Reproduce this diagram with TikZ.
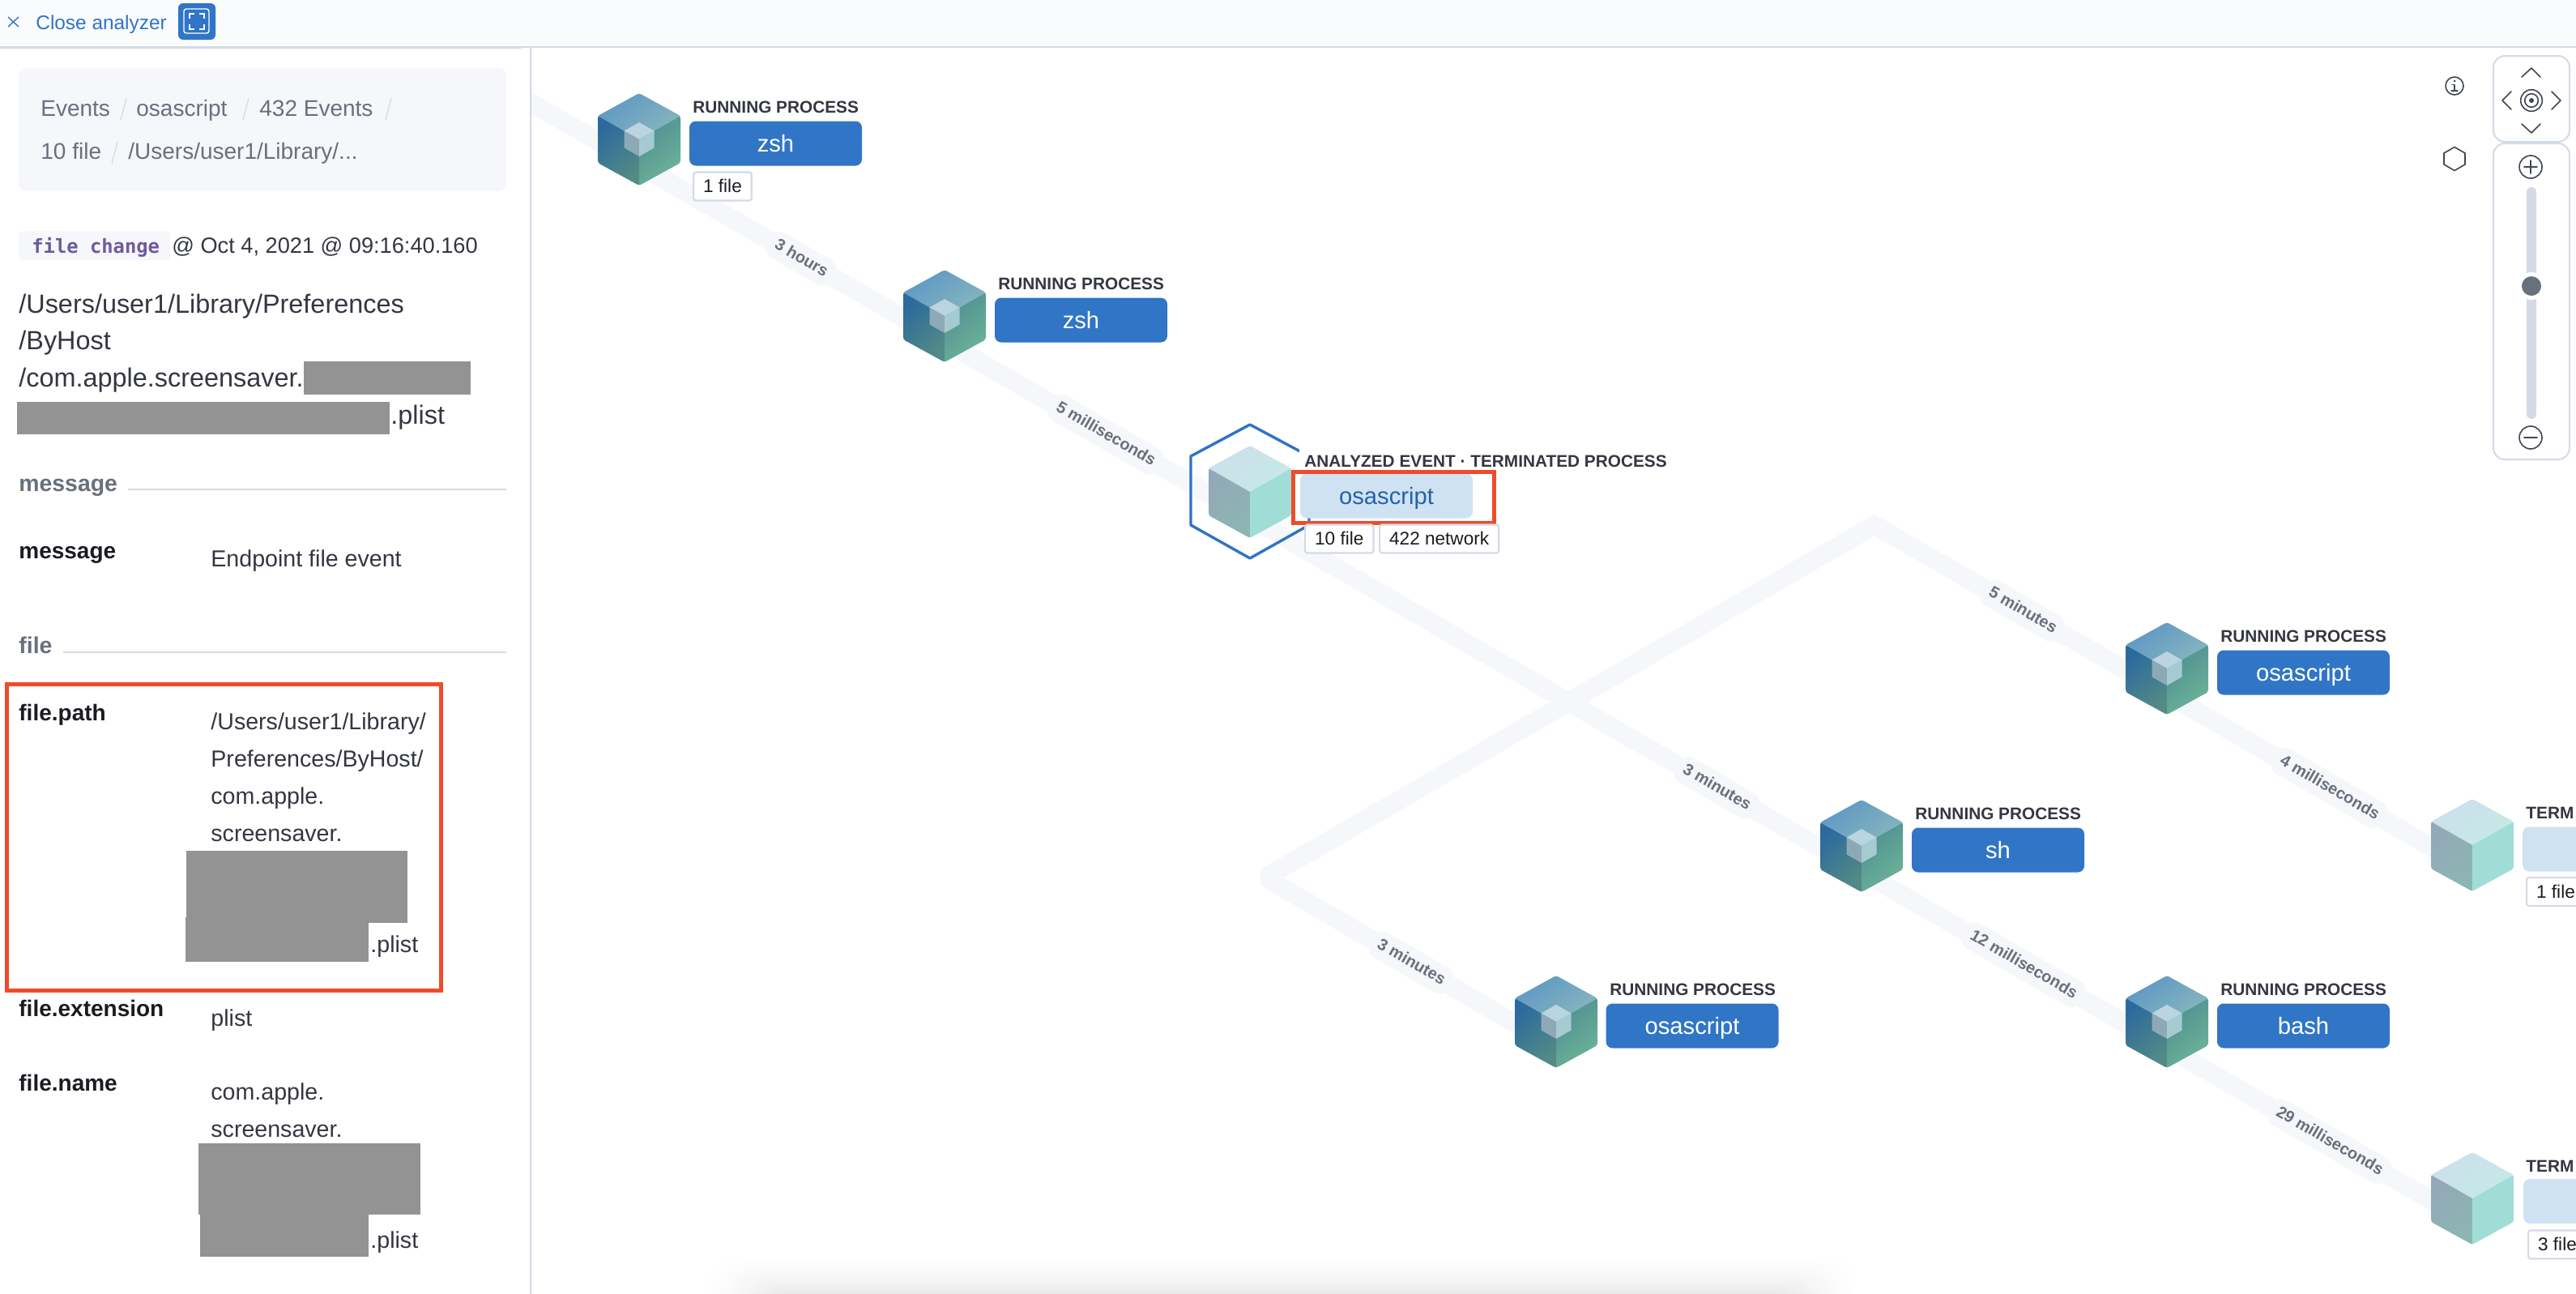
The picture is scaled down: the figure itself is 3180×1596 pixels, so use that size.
\documentclass[tikz,border=0pt]{standalone}
\usepackage{fontspec}
\setmainfont{Liberation Sans}
\newfontfamily\dejamono{DejaVu Sans Mono}
\usetikzlibrary{calc}
\definecolor{bluebtn}{HTML}{3075C6}
\definecolor{palebtn}{HTML}{CFE2F2}
\definecolor{paletxt}{HTML}{2562A8}
\definecolor{bandc}{HTML}{F5F7FA}
\definecolor{edgec}{HTML}{D3DAE6}
\definecolor{inkc}{HTML}{343741}
\definecolor{subc}{HTML}{69707D}
\definecolor{boldc}{HTML}{1A1C21}
\definecolor{redc}{HTML}{EF4B2B}
\definecolor{maskc}{HTML}{939393}
\definecolor{barc}{HTML}{FAFBFD}
\definecolor{iconc}{HTML}{404652}
\definecolor{purplec}{HTML}{6F5A9C}
\definecolor{hexc}{HTML}{2F74C4}
\definecolor{rtopa}{HTML}{5E97C4}
\definecolor{rtopb}{HTML}{88B7BD}
\definecolor{rlefta}{HTML}{2B6A9E}
\definecolor{rleftb}{HTML}{548A85}
\definecolor{rrighta}{HTML}{4F8F93}
\definecolor{rrightb}{HTML}{6DB497}
\definecolor{itop}{HTML}{BAD5E0}
\definecolor{ileft}{HTML}{8EA9B6}
\definecolor{iright}{HTML}{A6CAD2}
\definecolor{ttopa}{HTML}{CCDFEC}
\definecolor{ttopb}{HTML}{C6EAE6}
\definecolor{tlefta}{HTML}{93A8B8}
\definecolor{tleftb}{HTML}{8BB6B2}
\definecolor{tright}{HTML}{A1DDD7}
\tikzset{
  x=0.5pt,y=-0.5pt,
  band/.style={line width=11.5pt,color=bandc},
  pill/.style={fill=bandc,rounded corners=4.5pt,rotate=-30,inner xsep=3.5pt,inner ysep=0pt,minimum height=17.5pt,text height=7.3pt,text depth=2pt,text=subc,font=\fontsize{10}{12}\selectfont\bfseries},
  kind/.style={anchor=base west,inner sep=0pt,text=inkc,font=\fontsize{10.4}{12}\selectfont\bfseries},
  btn/.style={minimum width=106.5pt,minimum height=27.5pt,inner sep=0pt,rounded corners=4pt,fill=bluebtn,text=white,text height=12pt,text depth=2pt,font=\fontsize{14.6}{16}\selectfont},
  palebutton/.style={btn,fill=palebtn,text=paletxt},
  badge/.style={anchor=west,draw=edgec,line width=1.1pt,fill=white,rounded corners=1.5pt,inner xsep=6pt,inner ysep=0pt,minimum height=17.5pt,text=boldc,text height=8.2pt,text depth=0.3pt,font=\fontsize{11.3}{13}\selectfont},
  txt/.style={anchor=base west,inner sep=0pt},
  crumb/.style={txt,text=subc,font=\fontsize{14}{16}\selectfont},
  ptitle/.style={txt,text=inkc,font=\fontsize{16.2}{18}\selectfont},
  head/.style={txt,text=subc,font=\fontsize{14.2}{16}\selectfont\bfseries},
  fname/.style={txt,text=boldc,font=\fontsize{14}{16}\selectfont\bfseries},
  fval/.style={txt,text=inkc,font=\fontsize{14.3}{16}\selectfont},
  icon/.style={draw=iconc,line width=0.8pt,line cap=round,line join=round},
  ctlbox/.style={draw=edgec,line width=1pt,fill=white,rounded corners=7pt},
  sep/.style={draw=edgec,line width=0.6pt},
  mask/.style={fill=maskc},
  redbox/.style={draw=redc,line width=2.5pt},
  runcube/.pic={
    \begin{scope}
      \clip[rounded corners=1.5pt] (0,-57)--(51,-29)--(51,29)--(0,57)--(-51,29)--(-51,-29)--cycle;
      \shade[left color=rtopa,right color=rtopb,shading angle=35] (0,-57)--(51,-29)--(0,0)--(-51,-29)--cycle;
      \shade[left color=rlefta,right color=rleftb,shading angle=40] (-51,-29)--(0,0)--(0,57)--(-51,29)--cycle;
      \shade[left color=rrighta,right color=rrightb,shading angle=40] (51,-29)--(0,0)--(0,57)--(51,29)--cycle;
    \end{scope}
    \fill[fill=itop] (0,-21)--(18.5,-10.5)--(0,0)--(-18.5,-10.5)--cycle;
    \fill[fill=ileft] (-18.5,-10.5)--(0,0)--(0,21)--(-18.5,10.5)--cycle;
    \fill[fill=iright] (18.5,-10.5)--(0,0)--(0,21)--(18.5,10.5)--cycle;
  },
  termcube/.pic={
    \begin{scope}
      \clip[rounded corners=1.5pt] (0,-57)--(51,-29)--(51,29)--(0,57)--(-51,29)--(-51,-29)--cycle;
      \shade[left color=ttopa,right color=ttopb,shading angle=35] (0,-57)--(51,-29)--(0,0)--(-51,-29)--cycle;
      \shade[left color=tlefta,right color=tleftb,shading angle=40] (-51,-29)--(0,0)--(0,57)--(-51,29)--cycle;
      \fill[fill=tright] (51,-29)--(0,0)--(0,57)--(51,29)--cycle;
    \end{scope}
  }
}
\begin{document}
\begin{tikzpicture}
\useasboundingbox (0,0) rectangle (3180,1596);
\clip (0,0) rectangle (3180,1596);
\fill[white] (0,0) rectangle (3180,1596);
% bottom shadow
\foreach \i in {0,...,22}{
  \pgfmathsetmacro{\shadeamt}{8.5*((\i+1)/23)^2}
  \fill[black!\shadeamt!white,rounded corners=18pt] ({865+3.4*\i},{1543+2.4*\i}) rectangle ({2300-3.4*\i},1680);
}
% graph anchors
\coordinate (up) at (500,37);
\coordinate (c1) at (805,213);
\coordinate (c2) at (1182,431);
\coordinate (c3) at (1559,648);
\coordinate (sh) at (2314,1085);
\coordinate (top) at (2314,648);
\coordinate (low) at (1562,1083);
\coordinate (osaR) at (2691,866);
\coordinate (trm1) at (3068,1084);
\coordinate (osaL) at (1937,1302);
\coordinate (bash) at (2691,1302);
\coordinate (trm2) at (3068,1520);
% connectors
\draw[band] (up) -- (c1);
\draw[band] (c1) -- node[pill,pos=.488] (e1) {3 hours} (c2);
\draw[band] (c2) -- node[pill,pos=.485] (e2) {5 milliseconds} (c3);
\draw[band] (c3) -- node[pill,pos=.742] (e3) {3 minutes} (sh);
\draw[band,line join=bevel] (top) -- (low) -- node[pill,pos=.48] (e5) {3 minutes} (osaL);
\draw[band,line join=miter] (low) -- (top) -- node[pill,pos=.485] (e4) {5 minutes} (osaR);
\draw[band] (osaR) -- node[pill,pos=.49] (e6) {4 milliseconds} (trm1);
\draw[band] (sh) -- node[pill,pos=.488] (e7) {12 milliseconds} (bash);
\draw[band] (bash) -- node[pill,pos=.49] (e8) {29 milliseconds} (trm2);
% process cubes and labels
\pic (cA) at (789,172) {runcube};
\node[kind] (kA) at (855,139) {RUNNING PROCESS};
\node[btn] (bA) at (957.5,177) {zsh};
\node[badge] (fA) at (855,230) {1 file};
\pic (cB) at (1166,390) {runcube};
\node[kind] (kB) at (1232,357) {RUNNING PROCESS};
\node[btn] (bB) at (1334.5,395) {zsh};
% analyzed event
\draw[draw=hexc,line width=1.7pt,line join=round] (1543,524)--(1616,563)--(1616,648)--(1543,689)--(1470,648)--(1470,563)--cycle;
\pic (cC) at (1543,607) {termcube};
\fill[white] (1604,552) rectangle (2080,581);
\node[kind] (kC) at (1610,576) {ANALYZED EVENT · TERMINATED PROCESS};
\node[palebutton] (bC) at (1711.5,612) {osascript};
\draw[redbox] (1596,582.5) rectangle (1844,645);
\node[badge] (fC) at (1610,665) {10 file};
\node[badge] (nC) at (1702,665) {422 network};
% right-hand processes
\pic (cD) at (2675,825) {runcube};
\node[kind] (kD) at (2741,792) {RUNNING PROCESS};
\node[btn] (bD) at (2843.5,830) {osascript};
\pic (cE) at (2298,1044) {runcube};
\node[kind] (kE) at (2364,1011) {RUNNING PROCESS};
\node[btn] (bE) at (2466.5,1049) {sh};
\pic (cF) at (3052,1043) {termcube};
\node[kind] (kF) at (3118,1010) {TERM};
\node[palebutton] (bF) at (3220.5,1048) {};
\node[badge] (fF) at (3118,1100.5) {1 file};
\pic (cG) at (1921,1261) {runcube};
\node[kind] (kG) at (1987,1228) {RUNNING PROCESS};
\node[btn] (bG) at (2089,1266) {osascript};
\pic (cH) at (2675,1261) {runcube};
\node[kind] (kH) at (2741,1228) {RUNNING PROCESS};
\node[btn] (bH) at (2843.5,1266) {bash};
\pic (cI) at (3052,1479) {termcube};
\node[kind] (kI) at (3118,1446) {TERM};
\node[palebutton] (bI) at (3221.5,1482.5) {};
\node[badge] (fI) at (3120,1536) {3 file};
% map controls
\draw[ctlbox] (3078,69) rectangle (3172,175);
\draw[ctlbox] (3078,177) rectangle (3172,567);
\draw[icon] (3113,95)--(3125,84)--(3136,95);
\draw[icon] (3100,113)--(3089,124)--(3100,135);
\draw[icon] (3150,113)--(3161,124)--(3150,135);
\draw[icon] (3113,153)--(3125,164)--(3136,153);
\draw[icon] (3125,124) circle[radius=13.3];
\draw[icon] (3125,124) circle[radius=8.3];
\fill[iconc] (3125,124) circle[radius=3];
\draw[icon] (3030,106) circle[radius=11];
\fill[iconc] (3030,100) circle[radius=1.5];
\draw[icon,line width=0.7pt] (3027,104.5)--(3030,104.5)--(3030,112) (3026,112)--(3034,112);
\draw[icon,line width=0.8pt] (3030,181.5)--(3043,189)--(3043,203)--(3030,210.5)--(3017,203)--(3017,189)--cycle;
\draw[icon] (3124,206) circle[radius=14];
\draw[icon] (3116,206)--(3132,206) (3124,198)--(3124,214);
\fill[edgec,rounded corners=3pt] (3119,231) rectangle (3131,517);
\fill[white] (3125,353) circle[radius=17];
\fill[subc] (3125,353) circle[radius=12];
\draw[icon] (3124,540) circle[radius=14];
\draw[icon] (3116,540)--(3132,540);
% left panel
\path[fill=white,draw=edgec,line width=1pt] (-5,59)--(640,59) arc[start angle=90,end angle=0,radius=15]--(655,1610)--(-5,1610)--cycle;
% top bar
\fill[barc] (0,0) rectangle (3180,57);
\fill[edgec] (0,57) rectangle (3180,59);
\draw[draw=bluebtn,line width=0.7pt] (10,21)--(23,33) (23,21)--(10,33);
\node[txt,text=bluebtn,font=\fontsize{12.2}{14}\selectfont] (close) at (44,36) {Close analyzer};
\fill[bluebtn,rounded corners=3pt] (220,4) rectangle (266,49);
\draw[white,line width=0.7pt,rounded corners=1.5pt] (227,11) rectangle (258,41);
\draw[white,line width=0.8pt] (234,23)--(234,17)--(240,17) (246,17)--(252,17)--(252,23) (234,30)--(234,36)--(240,36) (246,36)--(252,36)--(252,30);
% breadcrumbs
\fill[bandc,rounded corners=5pt] (23,84) rectangle (625,236);
\node[crumb] (cr1) at (50,143) {Events};
\node[crumb] (cr2) at (168,143) {osascript};
\node[crumb] (cr3) at (320,143) {432 Events};
\node[crumb] (cr4) at (50,196) {10 file};
\node[crumb] (cr5) at (158,196) {/Users/user1/Library/...};
\draw[sep] (149,148)--(156,121) (300,148)--(307,121) (476,148)--(483,121) (138,202)--(145,175);
% event headline
\fill[bandc,rounded corners=3pt] (23,285) rectangle (210,321);
\node[txt,text=purplec,font=\dejamono\fontsize{11.9}{14}\selectfont\bfseries] (ev) at (39,312) {file change};
\node[txt,text=inkc,font=\fontsize{13.6}{16}\selectfont] (evt) at (212,312) {@ Oct 4, 2021 @ 09:16:40.160};
\node[ptitle] (t1) at (23,386) {/Users/user1/Library/Preferences};
\node[ptitle] (t2) at (23,431) {/ByHost};
\node[ptitle] (t3) at (23,477) {/com.apple.screensaver.};
\fill[mask] (375,446) rectangle (581,487);
\fill[mask] (21,496) rectangle (481,536);
\node[ptitle] (t4) at (482,523) {.plist};
% message section
\node[head] (h1) at (23,606) {message};
\draw[sep] (158,604)--(625,604);
\node[fname] (f1) at (23,689) {message};
\node[fval] (v1) at (260,699) {Endpoint file event};
\node[head] (h2) at (23,806) {file};
\draw[sep] (78,805)--(625,805);
% file fields
\node[fname] (f2) at (23,889) {file.path};
\node[fval] (v2a) at (260,900) {/Users/user1/Library/};
\node[fval] (v2b) at (260,946) {Preferences/ByHost/};
\node[fval] (v2c) at (260,992) {com.apple.};
\node[fval] (v2d) at (260,1038) {screensaver.};
\fill[mask] (230,1050) rectangle (503,1139);
\fill[mask] (229,1132) rectangle (455,1187);
\node[fval] (v2e) at (457,1175) {.plist};
\draw[redbox] (8,844.5) rectangle (544.5,1222.5);
\node[fname] (f3) at (23,1254) {file.extension};
\node[fval] (v3) at (260,1266) {plist};
\node[fname] (f4) at (23,1346) {file.name};
\node[fval] (v4a) at (260,1357) {com.apple.};
\node[fval] (v4b) at (260,1403) {screensaver.};
\fill[mask] (245,1411) rectangle (519,1499);
\fill[mask] (247,1499) rectangle (455,1551);
\node[fval] (v4c) at (457,1540) {.plist};
\end{tikzpicture}
\end{document}
